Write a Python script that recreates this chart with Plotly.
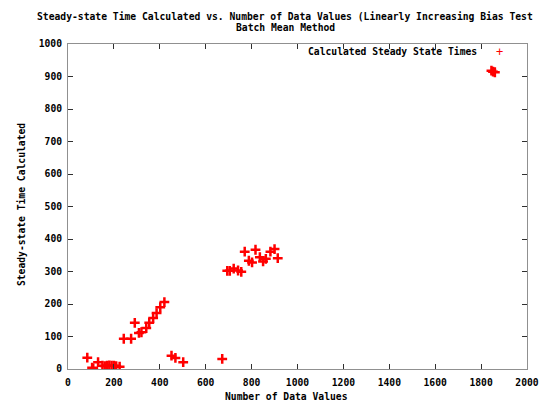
import plotly.graph_objects as go

# Data
num_data_values = [84, 105, 110, 131, 150, 160, 170, 180, 190, 200, 210, 225,
                   243, 275, 291, 309, 320, 341, 354, 371, 386, 402, 420,
                   451, 468, 502, 672,
                   694, 705, 722, 741, 755, 770, 788, 802, 817, 836, 850, 862,
                   882, 900, 914,
                   1845, 1852, 1860]
steady_state_time = [35, 4, 2, 21, 10, 9, 10, 11, 10, 10, 9, 7,
                     93, 93, 142, 111, 113, 126, 142, 157, 172, 190, 206,
                     41, 34, 21, 31,
                     302, 302, 309, 303, 299, 361, 333, 328, 367, 344, 331, 339,
                     361, 369, 341,
                     918, 915, 913]

x_ticks = [0, 200, 400, 600, 800, 1000, 1200, 1400, 1600, 1800, 2000]
y_ticks = [0, 100, 200, 300, 400, 500, 600, 700, 800, 900, 1000]

title_line1 = "Steady-state Time Calculated vs. Number of Data Values (Linearly Increasing Bias Test"
title_line2 = "Batch Mean Method"
x_title = "Number of Data Values"
y_title = "Steady-state Time Calculated"
legend_label = "Calculated Steady State Times"

FONT = "DejaVu Sans Mono"
fnt = dict(family=FONT, size=9.7, color="black", weight="bold")

fig = go.Figure()
fig.add_trace(go.Scatter(
    x=num_data_values, y=steady_state_time, mode="markers",
    marker=dict(symbol="cross-thin", size=7, line=dict(color="#ff0000", width=2.5), color="#ff0000"),
    showlegend=False, name=legend_label,
))

axis_common = dict(
    showline=True, mirror="ticks", linecolor="#909090", linewidth=1,
    ticks="inside", ticklen=5, tickcolor="#303030", tickwidth=1,
    showgrid=False, zeroline=False, tickfont=fnt, automargin=False,
)

fig.update_layout(
    width=540, height=405, autosize=False,
    margin=dict(l=67.5, r=13, t=44, b=35.5),
    plot_bgcolor="white", paper_bgcolor="white",
    xaxis=dict(range=[0, 2000], tickvals=x_ticks, ticktext=[str(v) for v in x_ticks],
               ticklabelstandoff=4, **axis_common),
    yaxis=dict(range=[0, 1000], tickvals=y_ticks, ticktext=[str(v) for v in y_ticks],
               ticklabelstandoff=3, **axis_common),
    showlegend=False,
)

ann = [
    dict(text=title_line1, x=-0.0729, y=1.086, xanchor="left", yanchor="middle"),
    dict(text=title_line2, x=0.473, y=1.052, xanchor="center", yanchor="middle"),
    dict(text=x_title, x=0.4755, y=0, yshift=-27.5, xanchor="center", yanchor="middle"),
    dict(text=y_title, x=-0.0997, y=0.505, xanchor="center", yanchor="middle", textangle=-90),
    dict(text=legend_label, x=0.8955, y=0.9754, xanchor="right", yanchor="middle"),
]
for a in ann:
    fig.add_annotation(xref="paper", yref="paper", showarrow=False, font=fnt, **a)

fig.add_annotation(xref="paper", yref="paper", showarrow=False, text="+",
                   x=0.941, y=0.9754, xanchor="center", yanchor="middle",
                   font=dict(family=FONT, size=12, color="#ff0000"))

post = """
document.body.style.margin = '0';
document.body.style.padding = '0';
document.body.style.overflow = 'hidden';
var gd = document.getElementById('{plot_id}');
Plotly.relayout(gd, {width: 540, height: 405});
"""

fig.write_html("out.html", config={"responsive": False, "displayModeBar": False}, post_script=post)
